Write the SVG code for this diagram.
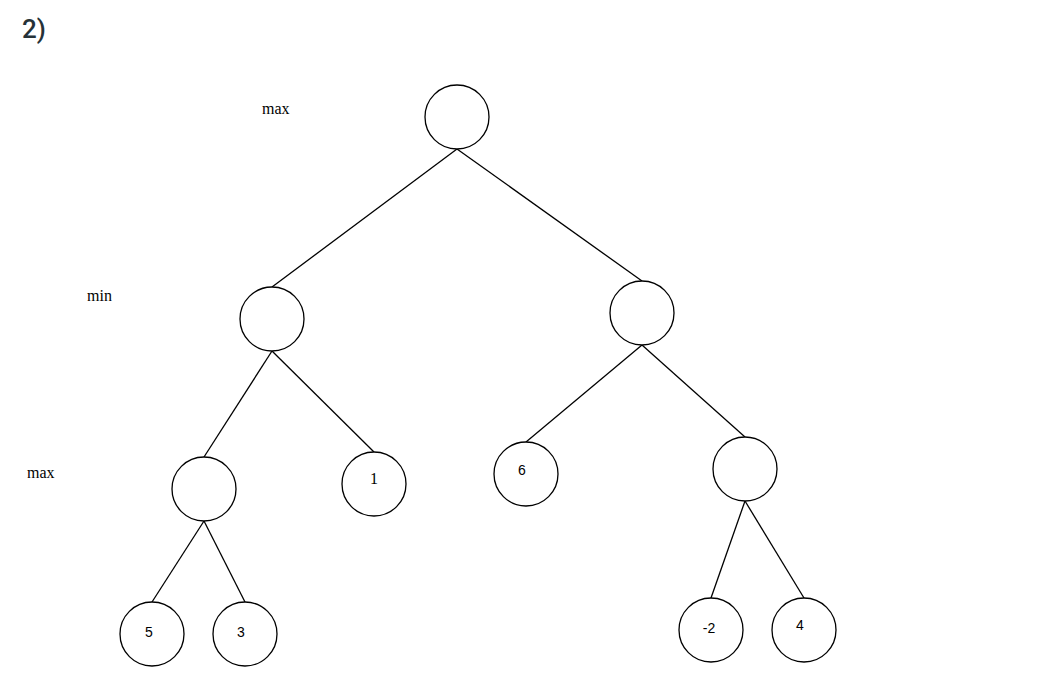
<svg xmlns="http://www.w3.org/2000/svg" width="1050" height="696" viewBox="0 0 1050 696">
<style>
.n{fill:#fff;stroke:#000;stroke-width:1.3}
.e{stroke:#000;stroke-width:1.3}
.s{font-family:"Liberation Serif",serif;font-size:16px;fill:#000}
.v{font-family:"Liberation Sans",Arial,sans-serif;font-size:14px;fill:#000;text-anchor:middle}
</style>
<rect width="1050" height="696" fill="#fff"/>
<text x="22" y="38" font-family="Roboto,'Liberation Sans',sans-serif" font-size="26" font-weight="500" fill="#263238">2)</text>
<text class="s" x="262" y="114">max</text>
<text class="s" x="87" y="301">min</text>
<text class="s" x="27" y="478">max</text>
<g id="connectors">
<line class="e" x1="457" y1="149" x2="272" y2="287"/>
<line class="e" x1="457" y1="149" x2="642" y2="281"/>
<line class="e" x1="272" y1="351" x2="204" y2="457"/>
<line class="e" x1="272" y1="351" x2="374" y2="452"/>
<line class="e" x1="642" y1="345" x2="526" y2="442"/>
<line class="e" x1="642" y1="345" x2="745" y2="437"/>
<line class="e" x1="204" y1="521" x2="152" y2="602"/>
<line class="e" x1="204" y1="521" x2="245" y2="602"/>
<line class="e" x1="745" y1="501" x2="711" y2="598"/>
<line class="e" x1="745" y1="501" x2="804" y2="598"/>
</g>
<g id="root"><circle class="n" cx="457" cy="117" r="32"/></g>
<g id="minL"><circle class="n" cx="272" cy="319" r="32"/></g>
<g id="minR"><circle class="n" cx="642" cy="313" r="32"/></g>
<g id="maxL"><circle class="n" cx="204" cy="489" r="32"/></g>
<g id="leaf1"><circle class="n" cx="374" cy="484" r="32"/><text class="s" x="374" y="484" text-anchor="middle" font-size="15">1</text></g>
<g id="leaf6"><circle class="n" cx="526" cy="474" r="32"/><text class="v" x="522" y="475">6</text></g>
<g id="maxR"><circle class="n" cx="745" cy="469" r="32"/></g>
<g id="leaf5"><circle class="n" cx="152" cy="634" r="32"/><text class="v" x="149" y="637">5</text></g>
<g id="leaf3"><circle class="n" cx="245" cy="634" r="32"/><text class="v" x="241" y="637">3</text></g>
<g id="leafm2"><circle class="n" cx="711" cy="630" r="32"/><text class="v" x="709" y="633">-2</text></g>
<g id="leaf4"><circle class="n" cx="804" cy="630" r="32"/><text class="v" x="800" y="630">4</text></g>
</svg>
